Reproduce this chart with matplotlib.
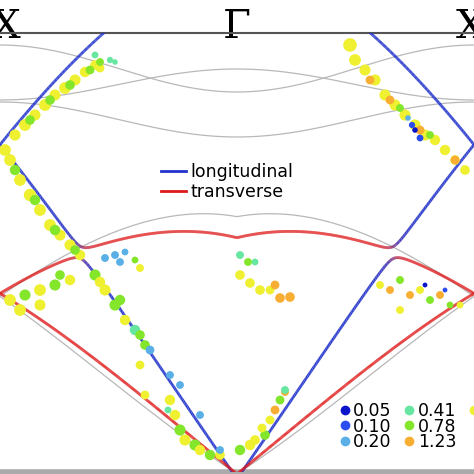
import numpy as np
import matplotlib
matplotlib.use("Agg")
import matplotlib.pyplot as plt
from matplotlib.collections import LineCollection
from matplotlib.lines import Line2D

# dispersion read-off points (k in units of the reduced zone, energy in arb. units)
long_k = [0.0, 0.45, 0.64, 1.0, 1.51, 2.0]
long_w = [0.0, 134, 218, 349, 441, 520]
trans_k = [0.0, 0.70, 1.0, 1.36, 2.0]
trans_w = [0.0, 134, 179, 224, 236]
gray_k = [0.0, 0.70, 1.0, 1.36, 2.0]
gray_w = [0.0, 128, 172, 232, 257]
# upper folded bands: value at Gamma, value at X
band_gamma = [382, 405, 337]
band_x = [429, 374, 372]

# scattered intensities: pixel x, pixel y, category index, size
pts_x = [5, 15, 25, 35, 45, 55, 65, 75, 85, 95, 100, 30, 50, 70, 90, 100, 95, 110, 115,
         10, 20, 30, 40, 50, 60, 70, 80, 15, 35, 55, 75,
         95, 105, 115, 125, 135, 145, 150, 100, 120, 140,
         10, 25, 40, 55, 70, 20, 40, 60,
         105, 115, 120, 125, 135, 140,
         240, 248, 255, 240, 250, 260, 270, 280, 290, 275,
         350, 355, 365, 375, 385, 395, 405, 415, 425, 435, 445, 455, 465,
         370, 390, 420, 455, 400, 430, 415, 420, 412, 408,
         380, 390, 400, 410, 420, 430, 440, 450, 460, 425, 445, 400,
         140, 145, 170, 175, 180, 185, 195, 200, 210, 220, 170, 180, 200, 220, 168,
         240, 250, 255, 265, 270, 275, 280, 285, 285, 262]
pts_y = [150, 135, 125, 115, 105, 95, 88, 80, 72, 65, 68, 120, 100, 85, 70, 62, 55, 60, 62,
         160, 180, 195, 210, 225, 235, 245, 255, 170, 200, 230, 250,
         275, 290, 305, 320, 330, 345, 350, 282, 300, 335,
         300, 295, 290, 285, 280, 310, 305, 275,
         258, 255, 262, 252, 260, 268,
         255, 262, 262, 275, 283, 290, 290, 298, 297, 285,
         45, 60, 70, 80, 95, 105, 115, 125, 135, 140, 150, 160, 170,
         80, 100, 130, 160, 108, 135, 130, 138, 125, 118,
         285, 290, 280, 295, 290, 300, 295, 305, 305, 285, 290, 310,
         365, 395, 400, 415, 430, 440, 445, 450, 455, 455, 375, 385, 415, 450, 410,
         450, 445, 440, 435, 420, 410, 400, 392, 390, 428]
pts_c = [6, 6, 6, 6, 6, 6, 6, 6, 6, 6, 6, 4, 4, 4, 4, 4, 3, 3, 3,
         6, 6, 6, 6, 6, 6, 6, 6, 4, 4, 4, 4,
         4, 6, 4, 6, 3, 4, 2, 6, 4, 4,
         6, 4, 6, 4, 6, 6, 6, 4,
         2, 2, 2, 2, 4, 6,
         3, 4, 3, 6, 6, 6, 6, 5, 5, 5,
         6, 6, 6, 6, 6, 6, 6, 6, 6, 6, 6, 6, 6,
         5, 5, 5, 5, 4, 4, 0, 1, 1, 2,
         6, 5, 4, 5, 6, 4, 5, 4, 6, 0, 1, 6,
         6, 6, 6, 6, 4, 6, 4, 6, 4, 6, 2, 2, 2, 2, 3,
         4, 6, 6, 4, 6, 5, 4, 5, 3, 6]
pts_s = [90, 80, 90, 80, 90, 80, 90, 80, 70, 60, 50, 60, 60, 60, 50, 40, 30, 25, 20,
         90, 90, 100, 90, 90, 80, 80, 70, 70, 70, 70, 60,
         80, 80, 80, 70, 70, 60, 50, 70, 70, 60,
         90, 80, 90, 80, 70, 90, 80, 60,
         40, 40, 40, 30, 30, 40,
         40, 40, 30, 60, 60, 60, 50, 60, 60, 50,
         120, 90, 80, 80, 80, 80, 80, 80, 80, 70, 70, 60, 60,
         50, 50, 50, 50, 40, 40, 20, 30, 25, 20,
         40, 40, 40, 40, 40, 40, 40, 30, 30, 15, 15, 40,
         50, 50, 70, 70, 80, 80, 80, 70, 70, 60, 40, 40, 40, 40, 30,
         70, 70, 60, 60, 50, 50, 50, 40, 40, 50]

legend_vals = ["0.05", "0.10", "0.20", "0.41", "0.78", "1.23", "2.00"]
cat_colors = ["#0a14c8", "#2a4cf0", "#5ab0e6", "#66e6a0", "#84e62a", "#f8ae32", "#eef030"]


def fit(k, w, deg=3):
    return np.poly1d(np.polyfit(k, w, deg))


fL, fT, fG = fit(long_k, long_w), fit(trans_k, trans_w), fit(gray_k, gray_w)

x = np.linspace(-1, 1, 801)
ak = np.abs(x)

fig = plt.figure(figsize=(4.74, 4.74), dpi=100)
ax = fig.add_axes([0, 2 / 474, 1, 439 / 474])
ax.set_xlim(-1, 1)
ax.set_ylim(2, 441)

# gray bands
ax.plot(x, fG(ak), color="#b8b8b8", lw=0.9)
ax.plot(x, fG(2 - ak), color="#b8b8b8", lw=0.9)
for g, xx in zip(band_gamma, band_x):
    m, a = (g + xx) / 2, (g - xx) / 2
    ax.plot(x, m + a * np.cos(np.pi * x), color="#b8b8b8", lw=0.9)


def colored(xv, yv, wv, lw=2.0):
    blue, red = np.array([0.13, 0.2, 0.8]), np.array([0.88, 0.1, 0.1])
    pts = np.column_stack([xv, yv]).reshape(-1, 1, 2)
    segs = np.concatenate([pts[:-1], pts[1:]], axis=1)
    wm = 0.5 * (wv[:-1] + wv[1:])
    cols = wm[:, None] * blue + (1 - wm[:, None]) * red
    ax.add_collection(LineCollection(segs, colors=cols, linewidths=lw, zorder=3))


# hybridised longitudinal / transverse branches
g = 6.0
for a_, b_ in [(fL(ak), fT(2 - ak)), (fL(2 - ak), fT(ak))]:
    mean, diff = (a_ + b_) / 2, (a_ - b_) / 2
    r = np.sqrt(diff ** 2 + g ** 2)
    lo, hi = mean - r, mean + r
    wlo = 0.5 * (1 - diff / r)
    colored(x, lo, wlo)
    colored(x, hi, 1 - wlo)

px = np.array(pts_x)
py = np.array(pts_y)
ax.scatter((px - 237) / 237, 474 - py, s=np.array(pts_s) * 0.8,
           c=[cat_colors[i] for i in pts_c], edgecolors="none", zorder=4)

for s in ["left", "right"]:
    ax.spines[s].set_visible(False)
ax.spines["top"].set_color("#555555")
ax.spines["top"].set_linewidth(1.5)
ax.spines["bottom"].set_color("#aaaaaa")
ax.spines["bottom"].set_linewidth(4)
ax.set_yticks([])
ax.set_xticks([-0.975, 0, 0.985])
ax.set_xticklabels(["X", "Γ", "X"], family="DejaVu Serif", fontsize=29)
ax.xaxis.tick_top()
ax.tick_params(axis="x", length=0, pad=-9)

leg1 = ax.legend([Line2D([], [], color="#2233cc", lw=2), Line2D([], [], color="#dd1a1a", lw=2)],
                 ["longitudinal", "transverse"], loc="center", bbox_to_anchor=(0.48, 0.66),
                 frameon=False, fontsize=12.5, handlelength=1.4, handletextpad=0.3,
                 labelspacing=0.1)
ax.add_artist(leg1)
blank = Line2D([], [], ls="", marker="")
handles = [Line2D([], [], ls="", marker="o", ms=7, mfc=c, mec="none") for c in cat_colors]
handles = handles + [blank, blank]
labels = legend_vals + ["", ""]
ax.legend(handles, labels, ncol=3, loc="upper left", bbox_to_anchor=(0.694, 0.175),
          frameon=False, fontsize=12.5, handletextpad=0.0, columnspacing=0.5,
          labelspacing=-0.15, handlelength=1.0, borderaxespad=0)

fig.savefig("out.png", dpi=100)
